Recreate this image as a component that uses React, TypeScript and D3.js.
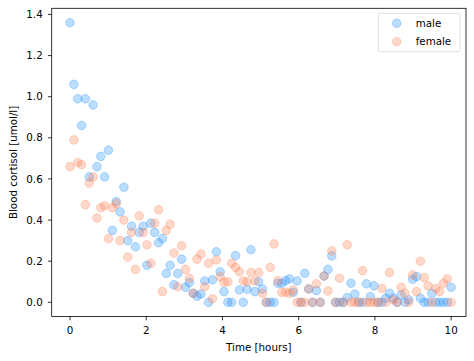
import React from 'react';
import * as d3 from 'd3';

// sample times: 100 points evenly over 0..10 hours
const timeCount = 100;
const maleCortisol = [
  1.36, 1.06, 0.99, 0.86, 0.99, 0.61, 0.96, 0.66, 0.71, 0.61,
  0.74, 0.35, 0.49, 0.44, 0.56, 0.30, 0.37, 0.27, 0.34, 0.37,
  0.18, 0.385, 0.34, 0.29, 0.31, 0.14, 0.18, 0.085, 0.14, 0.21,
  0.073, 0.096, 0.044, 0.03, 0.04, 0.104, 0.0, 0.109, 0.246, 0.149,
  0.052, 0.0, 0.0, 0.227, 0.06, 0.0, 0.064, 0.256, 0.052, 0.1,
  0.065, 0.0, 0.0, 0.0, 0.093, 0.093, 0.105, 0.114, 0.049, 0.104,
  0.0, 0.141, 0.065, 0.0, 0.057, 0.0, 0.128, 0.16, 0.226, 0.0,
  0.0, 0.0, 0.023, 0.093, 0.04, 0.0, 0.0, 0.09, 0.028, 0.08,
  0.0, 0.0, 0.02, 0.044, 0.02, 0.0, 0.036, 0.0, 0.012, 0.112,
  0.125, 0.02, 0.0, 0.0, 0.044, 0.0, 0.0, 0.0, 0.0, 0.073,
];
const femaleCortisol = [
  0.66, 0.79, 0.68, 0.67, 0.475, 0.58, 0.61, 0.41, 0.46, 0.47,
  0.31, 0.46, 0.48, 0.30, 0.40, 0.22, 0.34, 0.16, 0.42, 0.34,
  0.28, 0.19, 0.385, 0.45, 0.052, 0.35, 0.38, 0.24, 0.076, 0.275,
  0.16, 0.117, 0.044, 0.21, 0.235, 0.076, 0.19, 0.017, 0.206, 0.125,
  0.098, 0.1, 0.19, 0.17, 0.149, 0.104, 0.1, 0.145, 0.104, 0.145,
  0.044, 0.0, 0.17, 0.284, 0.105, 0.049, 0.049, 0.044, 0.06, 0.0,
  0.0, 0.0, 0.065, 0.0, 0.09, 0.0, 0.128, 0.055, 0.25, 0.0,
  0.117, 0.0, 0.28, 0.0, 0.0, 0.0, 0.154, 0.0, 0.0, 0.0,
  0.0, 0.068, 0.0, 0.145, 0.012, 0.0, 0.073, 0.044, 0.0, 0.133,
  0.052, 0.2, 0.12, 0.08, 0.0, 0.068, 0.052, 0.093, 0.114, 0.0,
];
const xTicks = [0, 2, 4, 6, 8, 10];
const yTicks = [0, 0.2, 0.4, 0.6, 0.8, 1.0, 1.2, 1.4];
const seriesNames = ['male', 'female'];
const seriesColors = ['#1e90ff', '#ff7f50'];

const times = d3.range(timeCount).map(i => (i * 10) / (timeCount - 1));

const W = 474;
const H = 361;
const plot = { left: 51.7, top: 8.3, right: 466, bottom: 316.5 };
const font = 'DejaVu Sans, sans-serif';

const App: React.FC = () => {
  const x = d3.scaleLinear().domain([-0.48, 10.39]).range([plot.left, plot.right]);
  const y = d3.scaleLinear().domain([-0.069, 1.43]).range([plot.bottom, plot.top]);

  const series = [maleCortisol, femaleCortisol];

  return (
    <svg width={W} height={H} style={{ position: 'fixed', left: 0, top: 0, background: '#fff' }}>
      {series.map((vals, s) => (
        <g key={s}>
          {vals.map((v, i) => (
            <circle
              key={i}
              cx={x(times[i])}
              cy={y(v)}
              r={4.3}
              fill={seriesColors[s]}
              fillOpacity={0.3}
              stroke={seriesColors[s]}
              strokeOpacity={0.3}
              strokeWidth={1}
            />
          ))}
        </g>
      ))}

      <rect
        x={plot.left}
        y={plot.top}
        width={plot.right - plot.left}
        height={plot.bottom - plot.top}
        fill="none"
        stroke="#000"
        strokeWidth={0.8}
      />

      {xTicks.map(t => (
        <g key={t} transform={`translate(${x(t)},${plot.bottom})`}>
          <line y2={3.8} stroke="#000" strokeWidth={0.8} />
          <text y={17.8} textAnchor="middle" fontFamily={font} fontSize={10.3} fill="#000">
            {t}
          </text>
        </g>
      ))}
      {yTicks.map(t => (
        <g key={t} transform={`translate(${plot.left},${y(t)})`}>
          <line x2={-3.8} stroke="#000" strokeWidth={0.8} />
          <text x={-9} dy="0.35em" textAnchor="end" fontFamily={font} fontSize={10.3} fill="#000">
            {t.toFixed(1)}
          </text>
        </g>
      ))}

      <text x={(plot.left + plot.right) / 2} y={350.5} textAnchor="middle" fontFamily={font} fontSize={10.3} fill="#000">
        Time [hours]
      </text>
      <text
        transform={`translate(13.5,${(plot.top + plot.bottom) / 2}) rotate(-90)`}
        textAnchor="middle"
        dy="0.35em"
        fontFamily={font}
        fontSize={10.3}
        fill="#000"
      >
        Blood cortisol [umol/l]
      </text>

      {/* legend */}
      <g>
        <rect x={378.3} y={13.3} width={81.7} height={38.4} rx={2} fill="#fff" fillOpacity={0.8} stroke="#d6d6d6" strokeWidth={0.8} />
        {seriesNames.map((name, i) => (
          <g key={name} transform={`translate(396.7,${23.3 + i * 18.4})`}>
            <circle r={4.3} fill={seriesColors[i]} fillOpacity={0.3} stroke={seriesColors[i]} strokeOpacity={0.3} />
            <text x={19} dy="0.35em" fontFamily={font} fontSize={10.3} fill="#000">
              {name}
            </text>
          </g>
        ))}
      </g>
    </svg>
  );
};

export default App;
